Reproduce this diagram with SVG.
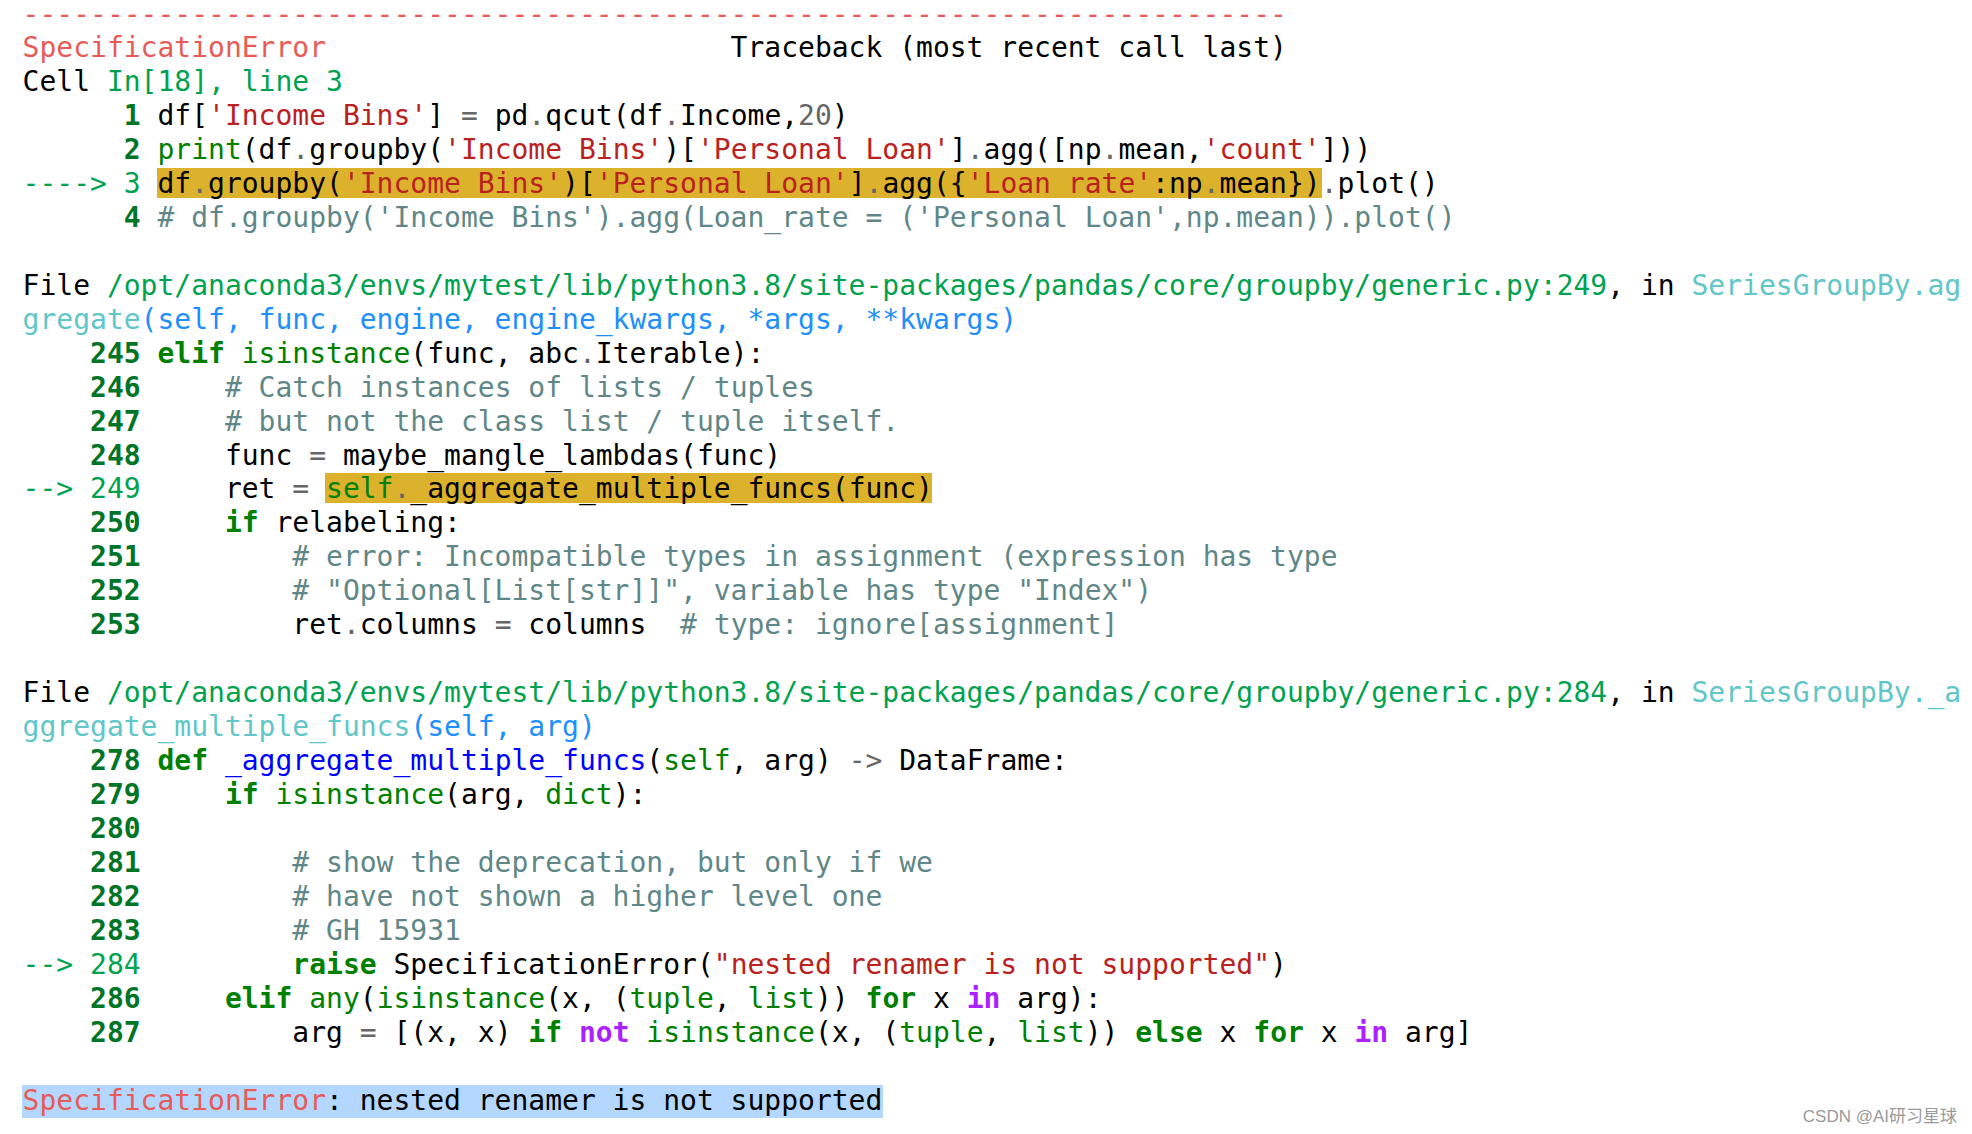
<svg xmlns="http://www.w3.org/2000/svg" width="1972" height="1134" viewBox="0 0 1972 1134">
<style>
text{font-family:"DejaVu Sans Mono","Liberation Mono",monospace;font-size:28px;fill:#000;white-space:pre}
.er{fill:#e75c58}.g{fill:#00a250}.ln{fill:#007427;font-weight:bold}.kw{fill:#008000;font-weight:bold}
.bi{fill:#008000}.s{fill:#ba2121}.o{fill:#666}.c{fill:#5f8787}.cy{fill:#60c6c8}.bl{fill:#208ffb}
.fn{fill:#0000ff}.p{fill:#aa22ff;font-weight:bold}.wm{font-family:"Liberation Sans","Noto Sans CJK SC",sans-serif;font-size:17px;fill:#999}
</style>
<rect width="1972" height="1134" fill="#fff"/>
<rect x="157" y="168" width="1165" height="30" fill="#dcb22c"/>
<rect x="325" y="473" width="607" height="30" fill="#dcb22c"/>
<rect x="22" y="1085" width="861" height="33" fill="#b3d7ff"/>
<g xml:space="preserve" transform="translate(0,1.5)">
<text x="22.6" y="22" class="er">---------------------------------------------------------------------------</text>
<text x="22.6" y="55"><tspan class="er">SpecificationError</tspan>                        Traceback (most recent call last)</text>
<text x="22.6" y="89">Cell <tspan class="g">In[18], line 3</tspan></text>
<text x="22.6" y="123">      <tspan class="ln">1</tspan> df[<tspan class="s">'Income Bins'</tspan>] <tspan class="o">=</tspan> pd<tspan class="o">.</tspan>qcut(df<tspan class="o">.</tspan>Income,<tspan class="o">20</tspan>)</text>
<text x="22.6" y="157">      <tspan class="ln">2</tspan> <tspan class="bi">print</tspan>(df<tspan class="o">.</tspan>groupby(<tspan class="s">'Income Bins'</tspan>)[<tspan class="s">'Personal Loan'</tspan>]<tspan class="o">.</tspan>agg([np<tspan class="o">.</tspan>mean,<tspan class="s">'count'</tspan>]))</text>
<text x="22.6" y="191"><tspan class="g">----&gt; 3</tspan> df<tspan class="o">.</tspan>groupby(<tspan class="s">'Income Bins'</tspan>)[<tspan class="s">'Personal Loan'</tspan>]<tspan class="o">.</tspan>agg({<tspan class="s">'Loan rate'</tspan>:np<tspan class="o">.</tspan>mean})<tspan class="o">.</tspan>plot()</text>
<text x="22.6" y="225">      <tspan class="ln">4</tspan> <tspan class="c"># df.groupby('Income Bins').agg(Loan_rate = ('Personal Loan',np.mean)).plot()</tspan></text>
<text x="22.6" y="293">File <tspan class="g">/opt/anaconda3/envs/mytest/lib/python3.8/site-packages/pandas/core/groupby/generic.py:249</tspan>, in <tspan class="cy">SeriesGroupBy.ag</tspan></text>
<text x="22.6" y="327"><tspan class="cy">gregate</tspan><tspan class="bl">(self, func, engine, engine_kwargs, *args, **kwargs)</tspan></text>
<text x="22.6" y="361">    <tspan class="ln">245</tspan> <tspan class="kw">elif</tspan> <tspan class="bi">isinstance</tspan>(func, abc<tspan class="o">.</tspan>Iterable):</text>
<text x="22.6" y="395">    <tspan class="ln">246</tspan>     <tspan class="c"># Catch instances of lists / tuples</tspan></text>
<text x="22.6" y="429">    <tspan class="ln">247</tspan>     <tspan class="c"># but not the class list / tuple itself.</tspan></text>
<text x="22.6" y="463">    <tspan class="ln">248</tspan>     func <tspan class="o">=</tspan> maybe_mangle_lambdas(func)</text>
<text x="22.6" y="496"><tspan class="g">--&gt; 249</tspan>     ret <tspan class="o">=</tspan> <tspan class="bi">self</tspan><tspan class="o">.</tspan>_aggregate_multiple_funcs(func)</text>
<text x="22.6" y="530">    <tspan class="ln">250</tspan>     <tspan class="kw">if</tspan> relabeling:</text>
<text x="22.6" y="564">    <tspan class="ln">251</tspan>         <tspan class="c"># error: Incompatible types in assignment (expression has type</tspan></text>
<text x="22.6" y="598">    <tspan class="ln">252</tspan>         <tspan class="c"># "Optional[List[str]]", variable has type "Index")</tspan></text>
<text x="22.6" y="632">    <tspan class="ln">253</tspan>         ret<tspan class="o">.</tspan>columns <tspan class="o">=</tspan> columns  <tspan class="c"># type: ignore[assignment]</tspan></text>
<text x="22.6" y="700">File <tspan class="g">/opt/anaconda3/envs/mytest/lib/python3.8/site-packages/pandas/core/groupby/generic.py:284</tspan>, in <tspan class="cy">SeriesGroupBy._a</tspan></text>
<text x="22.6" y="734"><tspan class="cy">ggregate_multiple_funcs</tspan><tspan class="bl">(self, arg)</tspan></text>
<text x="22.6" y="768">    <tspan class="ln">278</tspan> <tspan class="kw">def</tspan> <tspan class="fn">_aggregate_multiple_funcs</tspan>(<tspan class="bi">self</tspan>, arg) <tspan class="o">-&gt;</tspan> DataFrame:</text>
<text x="22.6" y="802">    <tspan class="ln">279</tspan>     <tspan class="kw">if</tspan> <tspan class="bi">isinstance</tspan>(arg, <tspan class="bi">dict</tspan>):</text>
<text x="22.6" y="836">    <tspan class="ln">280</tspan></text>
<text x="22.6" y="870">    <tspan class="ln">281</tspan>         <tspan class="c"># show the deprecation, but only if we</tspan></text>
<text x="22.6" y="904">    <tspan class="ln">282</tspan>         <tspan class="c"># have not shown a higher level one</tspan></text>
<text x="22.6" y="938">    <tspan class="ln">283</tspan>         <tspan class="c"># GH 15931</tspan></text>
<text x="22.6" y="972"><tspan class="g">--&gt; 284</tspan>         <tspan class="kw">raise</tspan> SpecificationError(<tspan class="s">"nested renamer is not supported"</tspan>)</text>
<text x="22.6" y="1006">    <tspan class="ln">286</tspan>     <tspan class="kw">elif</tspan> <tspan class="bi">any</tspan>(<tspan class="bi">isinstance</tspan>(x, (<tspan class="bi">tuple</tspan>, <tspan class="bi">list</tspan>)) <tspan class="kw">for</tspan> x <tspan class="p">in</tspan> arg):</text>
<text x="22.6" y="1040">    <tspan class="ln">287</tspan>         arg <tspan class="o">=</tspan> [(x, x) <tspan class="kw">if</tspan> <tspan class="p">not</tspan> <tspan class="bi">isinstance</tspan>(x, (<tspan class="bi">tuple</tspan>, <tspan class="bi">list</tspan>)) <tspan class="kw">else</tspan> x <tspan class="kw">for</tspan> x <tspan class="p">in</tspan> arg]</text>
<text x="22.6" y="1108"><tspan class="er">SpecificationError</tspan>: nested renamer is not supported</text>
</g>
<text x="1957" y="1122" class="wm" text-anchor="end">CSDN @AI研习星球</text>
</svg>
